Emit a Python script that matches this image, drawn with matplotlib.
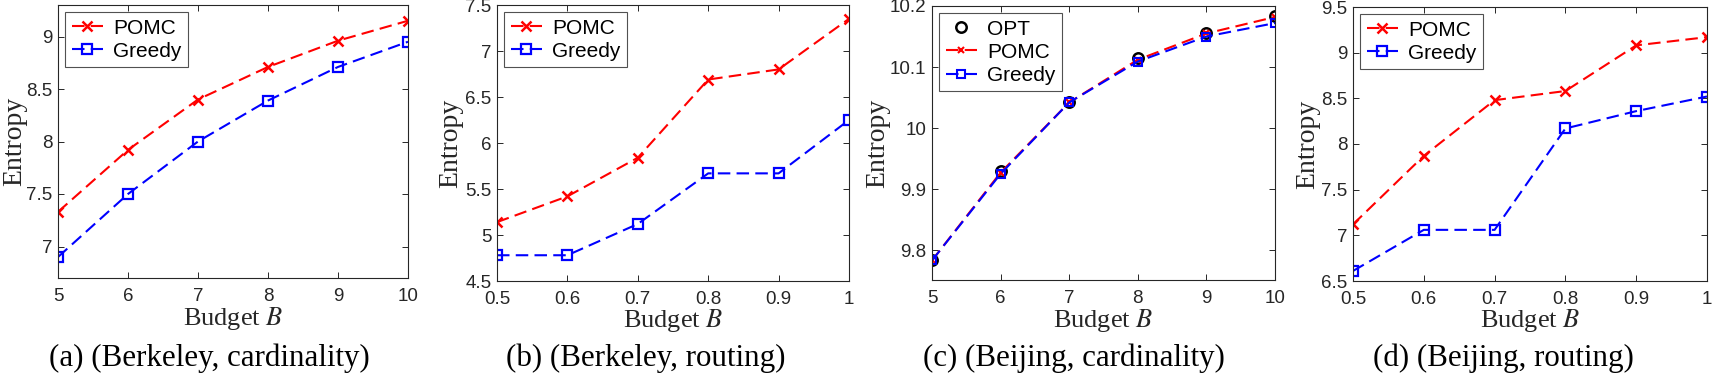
import matplotlib
matplotlib.use('Agg')
import matplotlib.pyplot as plt

plt.rcParams['mathtext.fontset'] = 'stix'

# data
budget_card = [5, 6, 7, 8, 9, 10]
budget_route = [0.5, 0.6, 0.7, 0.8, 0.9, 1.0]

berk_card_pomc = [7.33, 7.92, 8.40, 8.71, 8.96, 9.15]
berk_card_greedy = [6.90, 7.50, 8.00, 8.39, 8.71, 8.95]

berk_route_pomc = [5.14, 5.42, 5.84, 6.69, 6.80, 7.35]
berk_route_greedy = [4.78, 4.78, 5.12, 5.67, 5.67, 6.25]

beij_card_opt = [9.784, 9.930, 10.043, 10.114, 10.156, 10.183]
beij_card_pomc = [9.783, 9.927, 10.042, 10.112, 10.155, 10.182]
beij_card_greedy = [9.783, 9.925, 10.042, 10.109, 10.150, 10.172]

beij_route_pomc = [7.12, 7.87, 8.48, 8.58, 9.08, 9.17]
beij_route_greedy = [6.61, 7.06, 7.06, 8.17, 8.36, 8.52]

captions = ['(a) (Berkeley, cardinality)', '(b) (Berkeley, routing)',
            '(c) (Beijing, cardinality)', '(d) (Beijing, routing)']
caption_x = [209, 646, 1074, 1503]

W, H = 1716, 377
fig = plt.figure(figsize=(W / 100, H / 100), dpi=100)

# axes boxes in pixels: left, top, right, bottom, ylabel centre x
boxes = [(58, 5, 408, 278, 15), (497, 5, 849, 281, 451),
         (932, 6, 1275, 280, 878), (1353, 7, 1707, 281, 1308)]
axes = []
for l, t, r, b, yl in boxes:
    ax = fig.add_axes([l / W, 1 - b / H, (r - l) / W, (b - t) / H])
    ax.set_xlabel('Budget $B$', fontfamily='Liberation Serif', fontsize=19, color='#262626',
                  va='center')
    ax.set_ylabel('Entropy', fontfamily='Liberation Serif', fontsize=20, color='#262626',
                  va='center')
    ax.xaxis.set_label_coords(0.5, -40 / (b - t))
    ax.yaxis.set_label_coords((yl - l) / (r - l), 0.5)
    axes.append(ax)

red = '#ff0000'
blue = '#0000ff'
gray = '#262626'
sans = 'Liberation Sans'
dash = (6, 3)


def style(ax, xs, ylim, yticks, xticklabels):
    ax.set_xlim(xs[0], xs[-1])
    ax.set_ylim(*ylim)
    ax.set_xticks(xs)
    ax.set_xticklabels(xticklabels, fontfamily=sans, fontsize=13.5, color=gray)
    ax.set_yticks(yticks)
    ax.set_yticklabels([f'{v:g}' for v in yticks], fontfamily=sans, fontsize=13.5, color=gray)
    ax.tick_params(direction='in', top=True, right=True, length=4, width=0.7, colors=gray,
                   labelcolor=gray)
    ax.tick_params(axis='x', pad=7)
    ax.tick_params(axis='y', pad=4)
    for s in ax.spines.values():
        s.set_color(gray)
        s.set_linewidth(0.8)


def two_lines(ax, xs, pomc, greedy):
    ax.plot(xs, pomc, color=red, ls='--', dashes=dash, lw=1.5, marker='x', ms=7.5, mew=1.8,
            label='POMC')
    ax.plot(xs, greedy, color=blue, ls='--', dashes=dash, lw=1.5, marker='s', ms=6.5, mew=1.6,
            mfc='none', label='Greedy')


card_labels = [str(v) for v in budget_card]
route_labels = ['0.5', '0.6', '0.7', '0.8', '0.9', '1']

ax = axes[0]
two_lines(ax, budget_card, berk_card_pomc, berk_card_greedy)
style(ax, budget_card, (6.7, 9.3), [7, 7.5, 8, 8.5, 9], card_labels)

ax = axes[1]
two_lines(ax, budget_route, berk_route_pomc, berk_route_greedy)
style(ax, budget_route, (4.5, 7.5), [4.5, 5, 5.5, 6, 6.5, 7, 7.5], route_labels)

ax = axes[2]
ax.plot(budget_card, beij_card_opt, color='black', ls='none', marker='o', ms=7.5, mew=1.8,
        mfc='none', label='OPT')
ax.plot(budget_card, beij_card_pomc, color=red, ls='--', dashes=dash, lw=1.5, marker='x',
        ms=5, mew=1.5, label='POMC')
ax.plot(budget_card, beij_card_greedy, color=blue, ls='--', dashes=dash, lw=1.5, marker='s',
        ms=6, mew=1.5, mfc='none', label='Greedy')
style(ax, budget_card, (9.751, 10.2), [9.8, 9.9, 10, 10.1, 10.2], card_labels)

ax = axes[3]
two_lines(ax, budget_route, beij_route_pomc, beij_route_greedy)
style(ax, budget_route, (6.5, 9.5), [6.5, 7, 7.5, 8, 8.5, 9, 9.5], route_labels)

for ax in axes:
    leg = ax.legend(loc='upper left', prop={'family': sans, 'size': 15}, frameon=True,
                    fancybox=False, edgecolor=gray, handlelength=1.5, handletextpad=0.5,
                    borderpad=0.3, labelspacing=0.2, borderaxespad=0.35)
    leg.get_frame().set_linewidth(0.8)

for cap, cx in zip(captions, caption_x):
    fig.text(cx / W, 1 - 358 / H, cap, ha='center', va='center', fontfamily='Liberation Serif',
             fontsize=22.3, color='black')

fig.savefig('out.png', dpi=100)
